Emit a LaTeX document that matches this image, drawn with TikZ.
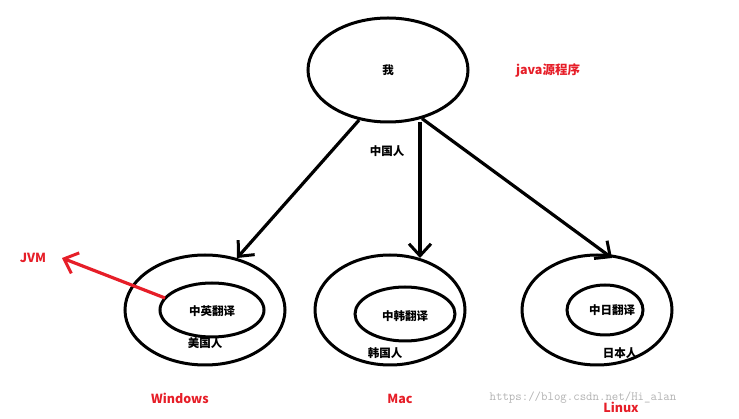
\documentclass[tikz,border=0pt]{standalone}
\usepackage{fontspec}
\setmainfont{Noto Sans CJK SC}
\usetikzlibrary{shapes.geometric,arrows.meta}
\definecolor{myred}{RGB}{230,30,40}
\begin{document}
\begin{tikzpicture}[x=1pt,y=-1pt,
  ell/.style={ellipse,draw,line width=3pt,inner sep=0pt},
  lbl/.style={font=\bfseries\fontsize{11.5}{13}\selectfont},
  rlbl/.style={font=\bfseries\fontsize{12.5}{14}\selectfont,text=myred},
  arr/.style={line width=3.2pt,-{Straight Barb[length=12pt,width=22pt,line width=3pt]}}]
\useasboundingbox (0,0) rectangle (739,419);
\node[ell,minimum width=160,minimum height=104] (top) at (388,70) {};
\node[lbl] (wo) at (388,70) {我};
\node[rlbl] (java) at (548,70) {java源程序};
\node[ell,minimum width=160,minimum height=110] (lo) at (205,310) {};
\node[ell,minimum width=104,minimum height=54] (li) at (212,310) {};
\node[lbl] at (212,311) {中英翻译};
\node[lbl] at (205,343) {美国人};
\node[ell,minimum width=150,minimum height=110] (mo) at (390,310) {};
\node[ell,minimum width=100,minimum height=54] (mi) at (405,314) {};
\node[lbl] at (405,316) {中韩翻译};
\node[lbl] at (385,353) {韩国人};
\node[ell,minimum width=150,minimum height=110] (ro) at (597,310) {};
\node[ell,minimum width=76,minimum height=50] (ri) at (605,310) {};
\node[lbl] at (612,310) {中日翻译};
\node[lbl] at (620,353) {日本人};
\coordinate (la) at (237,258);
\coordinate (ma) at (420,258);
\coordinate (ra) at (612,258);
\draw[arr] (top.240) -- (la);
\draw[arr] (420,122) -- (ma);
\draw[arr] (top.305) -- (ra);
\node[lbl] at (387,151) {中国人};
\node[rlbl] (jvm) at (33,258) {JVM};
\coordinate (js) at (165,298);
\draw[line width=3.2pt,myred,-{Straight Barb[length=12pt,width=22pt,line width=3pt]}] (js) -- (62,258);
\node[rlbl] at (180,398) {Windows};
\node[rlbl] at (400,399) {Mac};
\node[rlbl] at (621,407) {Linux};
\node[text=black!30,font=\ttfamily\fontsize{12.5}{14}\selectfont] at (583,398) {https://blog.csdn.net/Hi\_alan};
\end{tikzpicture}
\end{document}
